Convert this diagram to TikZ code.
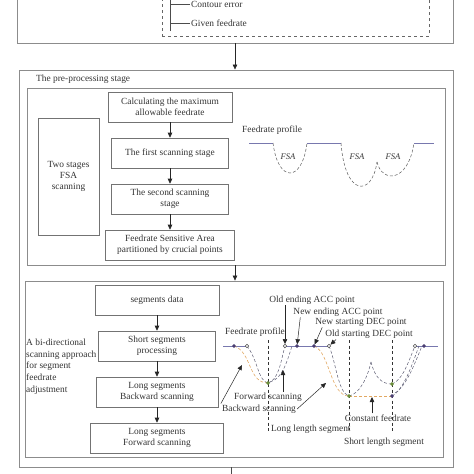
\documentclass[tikz,border=0pt]{standalone}
\usepackage{fontspec}
\setmainfont{Liberation Serif}
\usepackage{tikz}
\usetikzlibrary{arrows.meta, positioning}

\definecolor{profileblue}{HTML}{7878AE}
\definecolor{accorange}{HTML}{E2A862}
\definecolor{dotgreen}{HTML}{6B8E3A}
\definecolor{dotpurple}{HTML}{4B3F72}
\definecolor{curvegray}{HTML}{5E5E74}
\definecolor{framegray}{HTML}{8C8C8C}

\tikzset{
  frame/.style={draw=framegray, line width=0.9pt, inner sep=0pt},
  stagebox/.style={draw=black!55, line width=0.6pt, align=center, minimum height=30pt, inner sep=2pt},
  flow/.style={-{Triangle[length=5pt, width=4.5pt]}, draw=black!85, line width=0.6pt},
  pointer/.style={-{Triangle[length=5pt, width=4.5pt]}, draw=black!85, line width=0.5pt},
  profile/.style={draw=profileblue, line width=0.8pt},
  dip/.style={draw=black!65, line width=0.5pt, dash pattern=on 3pt off 2pt},
  fwdcurve/.style={draw=curvegray, line width=0.5pt, dash pattern=on 3pt off 2pt},
  bwdcurve/.style={draw=accorange, line width=0.6pt, dash pattern=on 3pt off 2pt},
  marker/.style={draw=black!80, line width=0.5pt, dash pattern=on 3pt off 2.5pt},
  fulldot/.style={circle, fill=#1, draw=#1, inner sep=0pt, minimum size=3.2pt},
  opendot/.style={circle, fill=white, draw=black!70, line width=0.5pt, inner sep=0pt, minimum size=3.4pt},
  label/.style={inner sep=1pt}
}

\begin{document}
\begin{tikzpicture}[x=1pt, y=-1pt, on grid, node distance=46pt,
    font=\fontsize{9.4}{10.8}\selectfont, text=black!80]
  \clip (0,0) rectangle (474,474);

  % input block
  \node[frame, minimum width=436pt, minimum height=50pt]                  (input) at (235,18) {};
  \node[draw=black!60, dashed, line width=0.6pt, minimum width=267pt, minimum height=43pt] (given) at (295.5,14.5) {};
  \coordinate (stem) at (170,31);
  \node[label, anchor=west] (contour) at (190,4)  {Contour error};
  \node[label, anchor=west] (gfeed)   at (190,23) {Given feedrate};
  \draw[black!70] (stem) -- (stem |- given.north);
  \draw[black!70] (stem |- contour) -- (contour.west);
  \draw[black!70] (stem |- gfeed) -- (gfeed.west);

  % pre-processing stage
  \node[frame, minimum width=434pt, minimum height=397pt] (pre) at (236,268.5) {};
  \node[label, anchor=west] (pretitle) at (35,79) {The pre-processing stage};
  \draw[flow] (input.south) -- (input.south |- pre.north);

  % FSA scanning
  \node[frame, line width=0.8pt, minimum width=418pt, minimum height=177pt] (fsa) at (236,176.5) {};
  \node[stagebox, minimum width=124pt]                     (maxfeed)    at (170,107) {Calculating the maximum\\allowable feedrate};
  \node[stagebox, minimum width=117pt, below=of maxfeed]   (firstscan)  {The first scanning stage};
  \node[stagebox, minimum width=117pt, below=of firstscan] (secondscan) {The second scanning\\stage};
  \node[stagebox, minimum width=129pt, below=of secondscan](fsarea)     {Feedrate Sensitive Area\\partitioned by crucial points};
  \node[stagebox, minimum width=61pt, minimum height=117pt] (twostage) at (68.5,176.5) {Two stages\\FSA\\scanning};
  \foreach \a/\b in {maxfeed/firstscan, firstscan/secondscan, secondscan/fsarea}
    \draw[flow] (\a) -- (\b);

  \node[label, anchor=west] (profA) at (241,130) {Feedrate profile};
  \draw[profile] (249,143) -- (273,143);
  \draw[profile] (307,143) -- (341,143);
  \draw[profile] (414,143) -- (434,143);
  \draw[dip] (273,143) .. controls (278,183) and (302,183) .. (307,143);
  \draw[dip] (341,143) .. controls (345,197) and (372,197) .. (377,162);
  \draw[dip] (377,162) .. controls (382,183) and (408,183) .. (414,143);
  \foreach \x [count=\i] in {288,357,393}
    \node[label, font=\fontsize{8.6}{10}\selectfont\itshape] (fsa\i) at (\x,157) {FSA};

  % segment scanning
  \node[frame, line width=0.8pt, minimum width=418pt, minimum height=176pt] (seg) at (234,369) {};
  \draw[flow] (fsa.south -| 235,0) -- (235,0 |- seg.north);
  \node[stagebox, minimum width=124pt]                   (segdata)  at (157,300) {segments data};
  \node[stagebox, minimum width=117pt, below=of segdata] (shortseg) {Short segments\\processing};
  \node[stagebox, minimum width=122pt, below=of shortseg](backscan) {Long segments\\Backward scanning};
  \node[stagebox, minimum width=133pt, below=of backscan](forscan)  {Long segments\\Forward scanning};
  \foreach \a/\b in {segdata/shortseg, shortseg/backscan, backscan/forscan}
    \draw[flow] (\a) -- (\b);
  \node[inner sep=0pt, anchor=north west, align=left, font=\fontsize{9.4}{11.6}\selectfont]
    (bidir) at (26,339) {A bi-directional\\scanning approach\\for segment\\feedrate\\adjustment};

  % feedrate profile with crucial points
  \draw[marker] (268,340) -- (268,432);
  \draw[marker] (349,340) -- (349,430);
  \draw[marker] (392,340) -- (392,433);
  \draw[profile] (223,346) -- (247,346);
  \draw[profile] (285,346) -- (329,346);
  \draw[profile] (415,346) -- (438,346);

  \draw[bwdcurve] (234,346) .. controls (252,352) and (248,383) .. (268,383);
  \draw[fwdcurve] (247,346) .. controls (258,360) and (258,381) .. (268,383);
  \draw[fwdcurve] (268,383) .. controls (279,380) and (281,360) .. (285,346);
  \draw[fwdcurve] (270,382) .. controls (283,379) and (288,358) .. (292,346);
  \draw[bwdcurve] (314,346) .. controls (330,352) and (330,396) .. (349,396);
  \draw[fwdcurve] (329,346) .. controls (336,362) and (338,393) .. (349,396);
  \draw[bwdcurve] (349,396) -- (392,396);
  \draw[fwdcurve] (349,396) .. controls (360,394) and (368,376) .. (371,362);
  \draw[fwdcurve] (371,362) .. controls (375,378) and (382,384) .. (392,384);
  \draw[fwdcurve] (392,384) .. controls (403,380) and (409,360) .. (415,346);
  \draw[fwdcurve] (392,396) .. controls (404,390) and (413,362) .. (419,346);
  \draw[fwdcurve] (395,393) .. controls (407,386) and (416,360) .. (422,346);

  \node[fulldot=dotpurple] (p1) at (234,346) {};
  \node[opendot]           (o1) at (247,346) {};
  \node[opendot]           (oacc) at (285,346) {};
  \node[fulldot=dotpurple] (nacc) at (297,346) {};
  \node[fulldot=dotpurple] (ndec) at (314,346) {};
  \node[opendot]           (odec) at (329,346) {};
  \node[opendot]           (o2) at (415,346) {};
  \node[fulldot=dotpurple] (p2) at (424,346) {};
  \node[fulldot=dotgreen]  (g1) at (268,383) {};
  \node[fulldot=dotgreen]  (g2) at (349,396) {};
  \node[fulldot=dotgreen]  (g3) at (392,384) {};
  \node[fulldot=dotpurple] (p3) at (392,396) {};

  \node[label] (oldacc) at (312,300) {Old ending ACC point};
  \node[label] (newacc) at (338,312) {New ending ACC point};
  \node[label] (newdec) at (361,322) {New starting DEC point};
  \node[label] (olddec) at (369,334) {Old starting DEC point};
  \node[label] (profB)  at (255,332) {Feedrate profile};
  \draw[pointer] (oacc |- oldacc.south) -- (oacc);
  \draw[pointer] ([xshift=8pt]newacc.south west) -- (nacc);
  \draw[pointer] ([xshift=8pt]newdec.south west) -- (ndec);
  \draw[pointer] ([xshift=12pt]olddec.south west) -- (odec);

  \coordinate (fwdtip)  at (283,370);
  \coordinate (bwdtip)  at (242,365);
  \coordinate (bwdtip2) at (326,383);
  \coordinate (consttip) at (372,397);
  \node[label] (fwd)   at (268,397) {Forward scanning};
  \node[label] (bwd)   at (259,409) {Backward scanning};
  \node[label, anchor=west] (longseg) at (270,429) {Long length segment};
  \node[label] (constf) at (378,418) {Constant feedrate};
  \node[label] (shortlen) at (384,442) {Short length segment};
  \draw[pointer] (fwd.north -| fwdtip) -- (fwdtip);
  \draw[pointer] (bwd.north west) -- (bwdtip);
  \draw[pointer] (bwd.east) -- (bwdtip2);
  \draw[pointer] (constf.north -| consttip) -- (consttip);

  % on to the next stage
  \draw[black!70, line width=0.6pt] ([xshift=-5pt]pre.south) -- ++(0,12);
\end{tikzpicture}
\end{document}
